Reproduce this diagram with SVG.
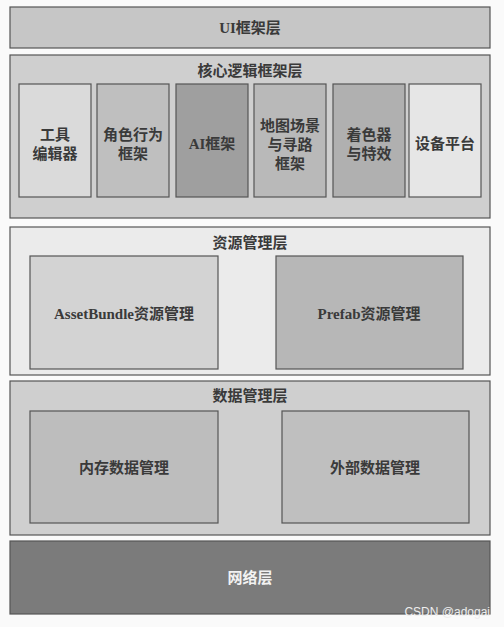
<svg xmlns="http://www.w3.org/2000/svg" width="504" height="627" viewBox="0 0 504 627">
<style>
.b{stroke:#555;stroke-width:1.2}
.t{font-family:"Liberation Serif","Noto Sans CJK SC",serif;font-size:15px;fill:#3a3a3a;text-anchor:middle;font-weight:bold}
</style>
<rect width="504" height="627" fill="#fafafa"/>
<g id="ui"><rect class="b" x="10" y="7" width="480" height="41" fill="#c6c6c6"/><text class="t" x="250" y="33">UI框架层</text></g>
<g id="core"><rect class="b" x="10" y="55" width="480" height="163" fill="#cfcfcf"/><text class="t" x="250" y="76">核心逻辑框架层</text></g>
<g id="tool"><rect class="b" x="19" y="84" width="72" height="113" fill="#dadada"/><text class="t" x="55" y="140">工具</text><text class="t" x="55" y="159">编辑器</text></g>
<g id="role"><rect class="b" x="97" y="84" width="72" height="113" fill="#bfbfbf"/><text class="t" x="133" y="140">角色行为</text><text class="t" x="133" y="159">框架</text></g>
<g id="ai"><rect class="b" x="176" y="84" width="72" height="113" fill="#9f9f9f"/><text class="t" x="212" y="149">AI框架</text></g>
<g id="map"><rect class="b" x="254" y="84" width="72" height="113" fill="#b9b9b9"/><text class="t" x="290" y="131">地图场景</text><text class="t" x="290" y="150">与寻路</text><text class="t" x="290" y="169">框架</text></g>
<g id="shader"><rect class="b" x="333" y="84" width="72" height="113" fill="#b0b0b0"/><text class="t" x="369" y="140">着色器</text><text class="t" x="369" y="159">与特效</text></g>
<g id="device"><rect class="b" x="409" y="84" width="72" height="113" fill="#e6e6e6"/><text class="t" x="445" y="149">设备平台</text></g>
<g id="res"><rect class="b" x="10" y="227" width="480" height="148" fill="#ebebeb"/><text class="t" x="250" y="248">资源管理层</text></g>
<g id="ab"><rect class="b" x="30" y="256" width="188" height="113" fill="#d3d3d3"/><text class="t" x="124" y="319">AssetBundle资源管理</text></g>
<g id="prefab"><rect class="b" x="276" y="256" width="187" height="113" fill="#b7b7b7"/><text class="t" x="369" y="319">Prefab资源管理</text></g>
<g id="data"><rect class="b" x="10" y="381" width="480" height="154" fill="#cfcfcf"/><text class="t" x="250" y="401">数据管理层</text></g>
<g id="mem"><rect class="b" x="30" y="411" width="188" height="112" fill="#bdbdbd"/><text class="t" x="124" y="473">内存数据管理</text></g>
<g id="ext"><rect class="b" x="282" y="411" width="187" height="112" fill="#bfbfbf"/><text class="t" x="375" y="473">外部数据管理</text></g>
<g id="net"><rect class="b" x="10" y="541" width="480" height="73" fill="#7b7b7b"/><text class="t" x="250" y="583" style="fill:#f2f2f2">网络层</text></g>
<g id="connectors"></g>
<text x="490" y="616" style="font-family:'Liberation Sans',sans-serif;font-size:12px;fill:#eee;text-anchor:end">CSDN @adogai</text>
</svg>
